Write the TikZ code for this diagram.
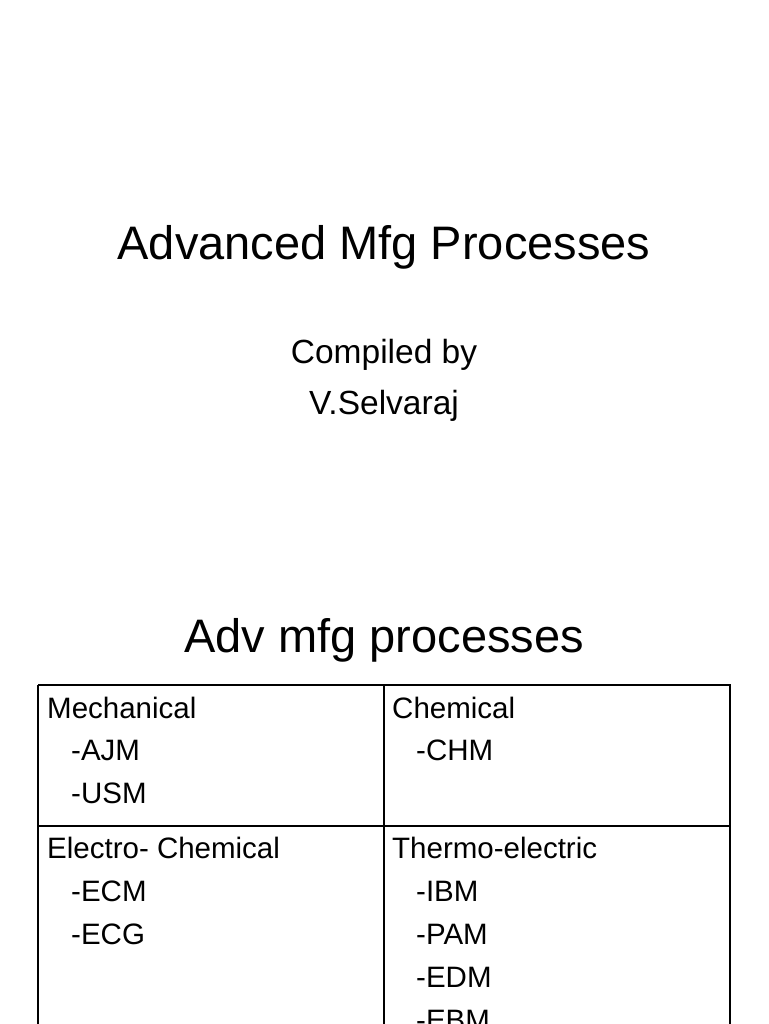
\documentclass[tikz,border=0pt]{standalone}
\usepackage{fontspec}
\setmainfont{Liberation Sans}
\begin{document}
\begin{tikzpicture}[x=1pt,y=-1pt,
  cell/.style={anchor=base west,inner sep=0pt,font=\fontsize{29.5}{32}\selectfont},
  big/.style={anchor=base,inner sep=0pt}]
\useasboundingbox[fill=white] (0,0) rectangle (768,1024);
\begin{scope}
\clip (0,0) rectangle (768,1024);
\node[big,font=\fontsize{47}{50}\selectfont] (t1) at (384,259) {Advanced Mfg Processes};
\node[big,font=\fontsize{33.5}{36}\selectfont] (t2) at (384,363) {Compiled by};
\node[big,font=\fontsize{33.5}{36}\selectfont] (t3) at (384,414) {V.Selvaraj};
\node[big,font=\fontsize{47}{50}\selectfont] (t4) at (384,652) {Adv mfg processes};
\draw[line width=1.5pt] (38,685) -- (730,685) -- (730,1040);
\draw[line width=1.5pt] (38,685) -- (38,1040);
\draw[line width=1.5pt] (38,826) -- (730,826);
\draw[line width=1.5pt] (384,685) -- (384,1040);
\node[cell] (a1) at (47,718) {Mechanical};
\node[cell] (a2) at (71,760) {-AJM};
\node[cell] (a3) at (71,803) {-USM};
\node[cell] (b1) at (392,718) {Chemical};
\node[cell] (b2) at (416,760) {-CHM};
\node[cell] (c1) at (47,858) {Electro- Chemical};
\node[cell] (c2) at (71,901) {-ECM};
\node[cell] (c3) at (71,944) {-ECG};
\node[cell] (d1) at (392,858) {Thermo-electric};
\node[cell] (d2) at (416,901) {-IBM};
\node[cell] (d3) at (416,944) {-PAM};
\node[cell] (d4) at (416,987) {-EDM};
\node[cell] (d5) at (416,1030) {-EBM};
\end{scope}
\end{tikzpicture}
\end{document}
